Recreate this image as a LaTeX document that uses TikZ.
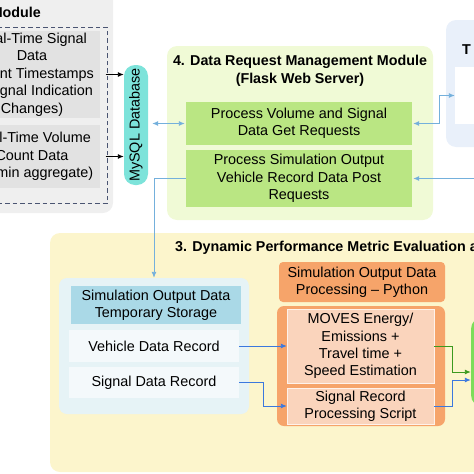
\documentclass[tikz,border=0pt]{standalone}
\usepackage{fontspec}
\setmainfont{Liberation Sans}
\usetikzlibrary{arrows.meta,calc}
\definecolor{modgray}{HTML}{EFEFEF}
\definecolor{boxgray}{HTML}{E2E2E2}
\definecolor{dashcol}{HTML}{4A5472}
\definecolor{sqlcol}{HTML}{7DE3DA}
\definecolor{modgreen}{HTML}{F0FAD6}
\definecolor{procgreen}{HTML}{BAE683}
\definecolor{modblue}{HTML}{E9F0FA}
\definecolor{modyellow}{HTML}{FCF5CC}
\definecolor{tempout}{HTML}{E6F3F6}
\definecolor{temphd}{HTML}{AAD9E7}
\definecolor{recbox}{HTML}{F4F9FB}
\definecolor{orng}{HTML}{F6A46A}
\definecolor{salmon}{HTML}{FAD4BC}
\definecolor{lblue}{HTML}{74B0DC}
\definecolor{dblue}{HTML}{3B78DE}
\definecolor{dgreen}{HTML}{3C9A1E}
\definecolor{brgreen}{HTML}{7CDD5A}
\tikzset{
  modbox/.style={rectangle, rounded corners=10pt, anchor=center, inner sep=0pt},
  txtbox/.style={rectangle, anchor=center, inner sep=0pt, align=center,
     font=\fontsize{14.4}{17.4}\selectfont},
  ttl/.style={font=\fontsize{14.3}{17.5}\selectfont\bfseries, inner sep=0pt},
  tip/.style={-{Latex[length=6pt,width=5pt]}},
  btip/.style={{Latex[length=6pt,width=5pt]}-{Latex[length=6pt,width=5pt]}},
}
\begin{document}
\begin{tikzpicture}[x=1pt,y=-1pt]
\useasboundingbox (0,0) rectangle (474,474);
\clip (0,0) rectangle (474,474);
% Module 1
\node[modbox, fill=modgray, minimum width=153pt, minimum height=223pt] (mod1) at (36.5,101.5) {};
\node[ttl, anchor=east] (t1) at (41,12) {Module};
\node[rectangle, draw=dashcol, dash pattern=on 4.5pt off 3pt, line width=1pt, minimum width=147pt, minimum height=176pt, inner sep=0pt] (dash) at (33.5,115) {};
\node[txtbox, fill=boxgray, minimum width=136pt, minimum height=87pt] (sigdata) at (32,74.5)
  {Real-Time Signal\\Data\\(Event Timestamps\\of Signal Indication\\Changes)};
\node[txtbox, fill=boxgray, minimum width=136pt, minimum height=63pt] (voldata) at (32,156.5)
  {Real-Time Volume\\Count Data\\(15-min aggregate)};
% MySQL
\node[rectangle, rounded corners=11pt, fill=sqlcol, rotate=90, minimum width=120pt, minimum height=24pt, inner sep=0pt,
  font=\fontsize{14.4}{17}\selectfont] (mysql) at (136,125) {MySQL Database};
% Module 4
\node[modbox, fill=modgreen, minimum width=266pt, minimum height=174pt] (mod4) at (300,133) {};
\node[ttl] (t4a) at (300,62) {4. Data Request Management Module};
\node[ttl] (t4b) at (300,80) {(Flask Web Server)};
\node[txtbox, fill=procgreen, minimum width=226pt, minimum height=43pt] (proc1) at (299,123.5)
  {Process Volume and Signal\\Data Get Requests};
\node[txtbox, fill=procgreen, minimum width=226pt, minimum height=57pt] (proc2) at (299,178.5)
  {Process Simulation Output\\Vehicle Record Data Post\\Requests};
% Module T
\node[modbox, fill=modblue, minimum width=60pt, minimum height=127pt] (modT) at (476,83.5) {};
\node[ttl, anchor=west] (tT) at (462,50) {T};
\node[rectangle, fill=white, minimum width=50pt, minimum height=57pt, inner sep=0pt] (twhite) at (480,95.5) {};
% Module 3
\node[modbox, fill=modyellow, minimum width=470pt, minimum height=239pt] (mod3) at (285,352.5) {};
\node[ttl, anchor=west] (t3) at (175,248) {3. Dynamic Performance Metric Evaluation and};
\node[modbox, fill=tempout, rounded corners=8pt, minimum width=190pt, minimum height=136pt] (temp) at (154,346) {};
\node[txtbox, fill=temphd, minimum width=170pt, minimum height=38pt] (temphd) at (156,305)
  {Simulation Output Data\\Temporary Storage};
\node[txtbox, fill=recbox, minimum width=170pt, minimum height=32pt] (vehrec) at (154,346) {Vehicle Data Record};
\node[txtbox, fill=recbox, minimum width=170pt, minimum height=31pt] (sigrec) at (154,382.5) {Signal Data Record};
\node[txtbox, fill=orng, rounded corners=4pt, minimum width=166pt, minimum height=40pt] (ortitle) at (362,282)
  {Simulation Output Data\\Processing -- Python};
\node[modbox, fill=orng, rounded corners=7pt, minimum width=168pt, minimum height=120pt] (orbox) at (361,366) {};
\node[txtbox, fill=salmon, draw=white!70!salmon, minimum width=147pt, minimum height=74pt] (moves) at (360.5,346)
  {MOVES Energy/\\Emissions +\\Travel time +\\Speed Estimation};
\node[txtbox, fill=salmon, draw=white!70!salmon, minimum width=147pt, minimum height=36pt] (sigproc) at (360.5,406)
  {Signal Record\\Processing Script};
\node[rectangle, rounded corners=12pt, fill=brgreen, minimum width=40pt, minimum height=90pt, inner sep=0pt] (gbox) at (491,362) {};
% connectors
\draw[tip, black, line width=0.9pt] (sigdata.east -| dash.east) ++(-2,0) -- (sigdata -| mysql.north);
\draw[tip, black, line width=0.9pt] (voldata.east -| dash.east) ++(-2,0) -- (voldata -| mysql.north);
\draw[btip, lblue, line width=0.9pt, shorten <=4pt, shorten >=1pt] (proc1.west -| mysql.south) -- (proc1.west);
\draw[tip, lblue, line width=0.9pt] (proc2.west) -| (temp.north);
\draw[btip, lblue, line width=0.9pt, shorten <=1pt] (proc1.east) -- ++(27,0) |- (twhite.west);
\coordinate (rin) at (480,178.5);
\draw[tip, lblue, line width=0.9pt, shorten >=1pt] (rin) -- (proc2.east);
\draw[tip, dblue, line width=0.9pt] (vehrec.east) -- (moves.west);
\draw[tip, dblue, line width=0.9pt] (sigrec.east) -- ++(24,0) |- (sigproc.west);
\draw[tip, dgreen, line width=0.9pt] (moves.east) -- ++(18,0) |- ($(gbox.west)+(0,10)$);
\draw[tip, dblue, line width=0.9pt] (sigproc.east) -- ++(18,0) |- ($(gbox.west)+(0,18)$);
\end{tikzpicture}
\end{document}
